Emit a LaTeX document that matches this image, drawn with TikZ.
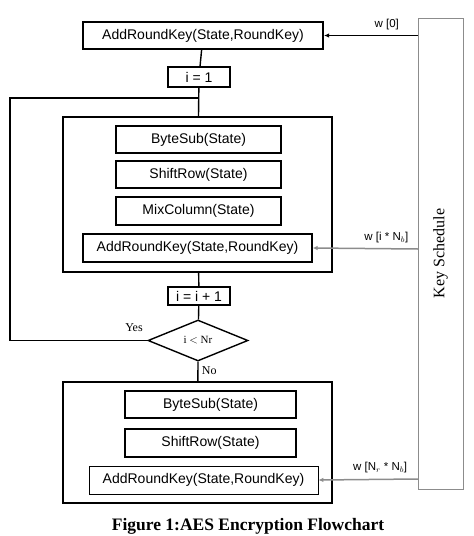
\documentclass[tikz,border=0pt]{standalone}
\usepackage{fontspec}
\setmainfont{Liberation Serif}
\setsansfont{Liberation Sans}
\usetikzlibrary{shapes.geometric,arrows.meta}

\definecolor{keygray}{gray}{0.55}

\tikzset{
  opbox/.style={draw,rectangle,inner sep=0pt,line width=1.1pt,
    font=\sffamily\fontsize{14}{16}\selectfont},
  framebox/.style={draw,rectangle,inner sep=0pt,line width=1.4pt},
  keyarrow/.style={-{Latex[length=5pt,width=4.5pt]},line width=1.5pt}
}

\begin{document}
\begin{tikzpicture}[x=1pt,y=-1pt]

      \useasboundingbox (0,0) rectangle (474,536);

      % outer frames
      \begin{scope}[every node/.style={framebox}]
        \node (round) at (197.5,194.5) [minimum width=269,minimum height=155] {};
        \node (last)  at (197.5,442.5) [minimum width=269,minimum height=121] {};
        \node (keys)  at (440.5,253.5) [minimum width=45,minimum height=471,
          draw=keygray,line width=0.8pt] {};
      \end{scope}

      \node[rotate=90,font=\fontsize{16}{18}\selectfont] at (keys.center) {Key Schedule};

      \begin{scope}[every node/.style={opbox}]
        \node (ark0) at (203,35.5)  [minimum width=240,minimum height=27,line width=2pt] {AddRoundKey(State,RoundKey)};
        \node (init) at (199,77)    [minimum width=62,minimum height=20] {i = 1};
        \node (bs1)  at (198.5,139.5) [minimum width=165,minimum height=27] {ByteSub(State)};
        \node (sr1)  at (198.5,174.5) [minimum width=165,minimum height=27] {ShiftRow(State)};
        \node (mc1)  at (198.5,211)   [minimum width=165,minimum height=28] {MixColumn(State)};
        \node (ark1) at (197.5,248)   [minimum width=229,minimum height=28] {AddRoundKey(State,RoundKey)};
        \node (inc)  at (199,296)   [minimum width=62,minimum height=18] {i = i + 1};
        \node (bs2)  at (210.5,404.5) [minimum width=171,minimum height=27] {ByteSub(State)};
        \node (sr2)  at (210.5,443)   [minimum width=171,minimum height=28] {ShiftRow(State)};
        \node (ark2) at (203.5,480)   [minimum width=229,minimum height=28,line width=0.8pt] {AddRoundKey(State,RoundKey)};
      \end{scope}

      \node (test) at (198,340.5) [draw,diamond,aspect=2.44,inner sep=0pt,
        minimum width=100,minimum height=41,line width=1.4pt,
        font=\fontsize{11}{13}\selectfont] {i $<$ Nr};

      \coordinate (join)  at (199,98);
      \coordinate (yesup) at (10,98);
      \coordinate (yesdn) at (10,340.5);
      \coordinate (k0) at (keys.west |- ark0.east);
      \coordinate (k1) at (418,249);
      \coordinate (k2) at (418,479);

      \begin{scope}[line width=1.4pt]
        \path (ark0) edge (init);
        \path (init) edge (round);
        \path (round) edge (inc);
        \path (inc)  edge (test);
        \path (test.south) edge node[right,pos=0.45,font=\fontsize{12}{14}\selectfont] {No} (last);
        \draw (test.west) -- (yesdn) -- (yesup) -- (join);
      \end{scope}

      \node[font=\fontsize{12}{14}\selectfont] at (134,328) {Yes};

      \begin{scope}[every node/.style={above=2pt,font=\sffamily\fontsize{11.5}{13}\selectfont}]
        \draw[keyarrow] (k0) -- node[pos=0.33] {w [0]} (ark0.east);
        \draw[keyarrow,draw=keygray] (k1) -- node[pos=0.3] {w [i * N$_b$]} (ark1.east);
        \draw[keyarrow,draw=keygray] (k2) -- node[pos=0.38] {w [N$_r$ * N$_b$]} (ark2.east);
      \end{scope}

      \node[anchor=base,font=\bfseries\fontsize{17.5}{20}\selectfont] at (248,530)
        {Figure 1:AES Encryption Flowchart};

    \end{tikzpicture}
\end{document}
